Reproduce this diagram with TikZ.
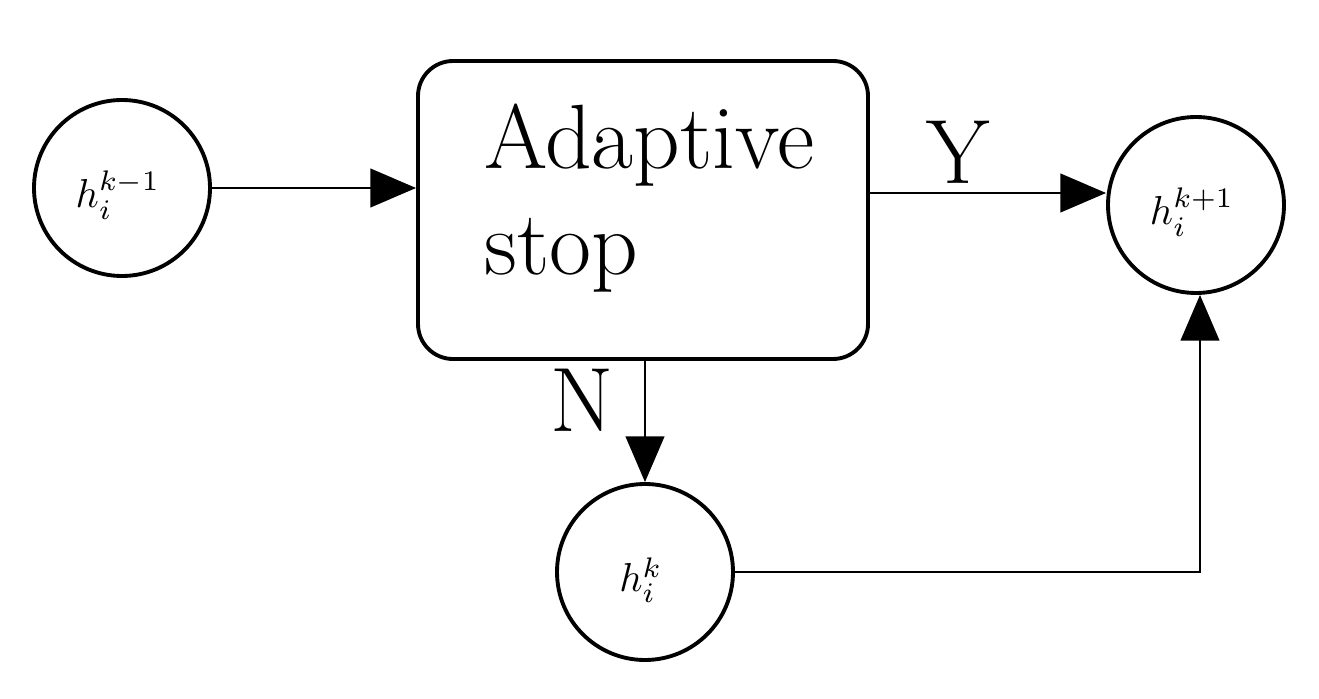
\documentclass[tikz,border=0pt]{standalone}
\usetikzlibrary{arrows.meta}
\begin{document}
\begin{tikzpicture}[x=0.02cm,y=-0.02cm,
  circ/.style={circle,draw,line width=2.2pt,minimum size=176*0.02cm,inner sep=0pt},
  arr/.style={line width=1.2pt,-{Triangle[length=26pt,width=22pt]}},
  lab/.style={font=\fontsize{52}{60}\selectfont}]
\useasboundingbox (0,0) rectangle (1319,699);
\node[circ] (a) at (122,188) {};
\node at (118,195) {\scalebox{2.3}{$h_i^{k-1}$}};
\node[draw,line width=2.2pt,rounded corners=35*0.02cm,minimum width=450*0.02cm,minimum height=298*0.02cm] (box) at (643,210) {};
\node[lab,align=left,anchor=west] at (478,198) {Adaptive\\stop};
\node[circ] (c) at (1196,205) {};
\node at (1192,212) {\scalebox{2.3}{$h_i^{k+1}$}};
\node[circ] (b) at (645,572) {};
\node at (641,580) {\scalebox{2.3}{$h_i^{k}$}};
\draw[arr] (a.east) -- (box.west |- a.east);
\draw[arr] (box.east |- 0,193) -- (c.west |- 0,193);
\node[lab] at (958,152) {Y};
\draw[arr] (box.south -| b.north) -- (b.north);
\node[lab] at (582,400) {N};
\coordinate (k) at (1200,572);
\draw[arr] (b.east) -- (k) -- (c.south -| k);
\end{tikzpicture}
\end{document}
